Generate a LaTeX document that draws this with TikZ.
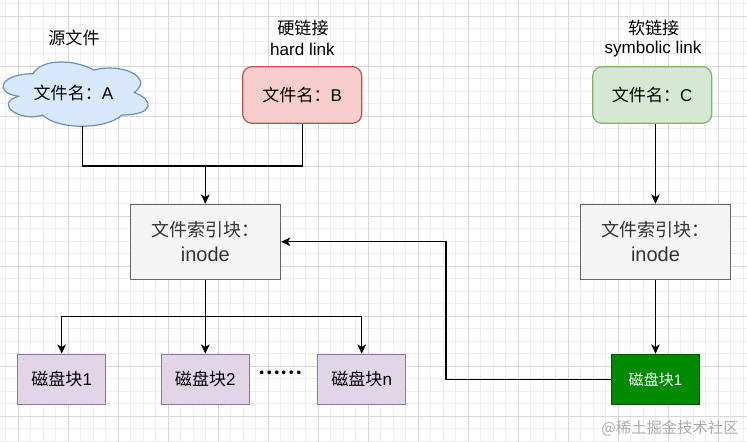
\documentclass[tikz,border=0pt]{standalone}
\usepackage{fontspec}
\setmainfont{Liberation Sans}
\newfontfamily\cjk{Noto Sans CJK SC}[BoldFont={Noto Sans CJK SC Bold}]
\usetikzlibrary{arrows.meta}

\definecolor{gridlight}{HTML}{EEEEEE}
\definecolor{griddark}{HTML}{D8D8D8}
\definecolor{cloudfill}{HTML}{DAE8FC}
\definecolor{cloudline}{HTML}{6C8EBF}
\definecolor{hardfill}{HTML}{F8CECC}
\definecolor{hardline}{HTML}{B85450}
\definecolor{softfill}{HTML}{D5E8D4}
\definecolor{softline}{HTML}{82B366}
\definecolor{inodefill}{HTML}{F5F5F5}
\definecolor{inodeline}{HTML}{666666}
\definecolor{inodetext}{HTML}{333333}
\definecolor{diskfill}{HTML}{E1D5E7}
\definecolor{diskline}{HTML}{9673A6}
\definecolor{symfill}{HTML}{008A00}
\definecolor{symline}{HTML}{005700}

\tikzset{every picture/.style={line width=0.75pt},
	gridminor/.style={draw=gridlight,line width=0.7pt},
	gridmajor/.style={draw=griddark,line width=0.7pt},
	plaintext/.style={inner sep=0pt,font=\fontsize{12.8}{15}\selectfont},
	linkbox/.style={plaintext,rounded corners=7pt,minimum width=89.25pt,minimum height=42.5pt,line width=0.9pt},
	hardbox/.style={linkbox,fill=hardfill,draw=hardline},
	softbox/.style={linkbox,fill=softfill,draw=softline},
	inodebox/.style={inner sep=0pt,minimum width=112.8pt,minimum height=56.25pt,fill=inodefill,draw=inodeline,
		line width=0.9pt,text=inodetext,align=center,font=\fontsize{13.5}{19}\selectfont},
	diskbox/.style={plaintext,minimum width=66pt,minimum height=37.5pt,fill=diskfill,draw=diskline,line width=0.9pt},
	greenbox/.style={inner sep=0pt,minimum width=66pt,minimum height=37.5pt,fill=symfill,draw=symline,
		line width=0.9pt,text=white,font=\fontsize{11.3}{14}\selectfont},
	watermark/.style={inner sep=0pt,text=black!32,font=\fontsize{11.5}{14}\selectfont},
	link/.style={draw=black,line width=0.9pt},
	arrow/.style={link,-{Stealth[length=7pt,width=6.5pt,inset=2pt]}}}

\begin{document}
\begin{tikzpicture}[x=0.75pt,y=0.75pt,yscale=-1,xscale=1]
	\useasboundingbox (0,0) rectangle (747,442);
	\fill[white] (0,0) rectangle (747,442);

	% Grid
	\foreach \gx in {0,...,59} {\draw[gridminor] (5.8+12.5*\gx,0) -- (5.8+12.5*\gx,442);}
	\foreach \gy in {0,...,35} {\draw[gridminor] (0,3.5+12.5*\gy) -- (747,3.5+12.5*\gy);}
	\foreach \gx in {0,...,14} {\draw[gridmajor] (18.3+50*\gx,0) -- (18.3+50*\gx,442);}
	\foreach \gy in {0,...,8} {\draw[gridmajor] (0,16+50*\gy) -- (747,16+50*\gy);}

	%Shape: Cloud
	\draw [fill=cloudfill,draw=cloudline,line width=0.9pt] (33,73.75) .. controls (0.6,73.75) and (-7.5,92.5) .. (18.42,96.25) .. controls (-7.5,104.5) and (21.66,122.5) .. (42.72,115) .. controls (57.3,130) and (105.9,130) .. (122.1,115) .. controls (154.5,115) and (154.5,100) .. (134.25,92.5) .. controls (154.5,77.5) and (122.1,62.5) .. (93.75,70) .. controls (73.5,58.75) and (41.1,58.75) .. (33,73.75) -- cycle ;
	\node[plaintext] (fileA) at (73.5,92.5) {{\cjk 文件名：}A};
	\coordinate (fileAb) at (82.7,126);

	%Shape: Rounded Rect
	\node[hardbox] (fileB) at (302.2,95) {{\cjk 文件名：}B};
	\node[softbox] (fileC) at (652.2,95) {{\cjk 文件名：}C};

	% Text Node
	\node[plaintext] (srcLabel) at (74,38.3) {\cjk 源文件};
	\node[plaintext] (hardLabel) at (303,28.3) {\cjk 硬链接};
	\node[plaintext] (hardEn) at (302.5,49) {hard link};
	\node[plaintext] (softLabel) at (653.7,28.3) {\cjk 软链接};
	\node[plaintext] (softEn) at (653,49) {symbolic link};

	%Shape: Rectangle
	\node[inodebox] (inodeL) at (205.3,241.8) {{\cjk 文件索引块：}\\{\fontsize{15}{18}\selectfont inode}};
	\node[inodebox] (inodeR) at (655.5,241.8) {{\cjk 文件索引块：}\\{\fontsize{15}{18}\selectfont inode}};

	\node[diskbox] (disk1) at (61.7,379.3) {{\cjk 磁盘块}1};
	\node[diskbox] (disk2) at (205.3,379.3) {{\cjk 磁盘块}2};
	\node[diskbox] (diskn) at (361.7,379.3) {{\cjk 磁盘块}n};
	\node[plaintext,font=\fontsize{15}{18}\selectfont] (dots) at (280.5,373) {\cjk\bfseries ……};
	\node[greenbox] (diskS) at (655.5,379.3) {{\cjk 磁盘块}1};

	% Connectors
	\coordinate (joinAB) at (205.3,166);
	\draw[link] (fileAb) |- (joinAB);
	\draw[link] (fileB.south) |- (joinAB);
	\draw[arrow] (joinAB) -- (inodeL.north);

	\coordinate (splitL) at (205.3,316.7);
	\draw[link] (inodeL.south) -- (splitL);
	\draw[arrow] (splitL) -| (disk1.north);
	\draw[arrow] (splitL) -- (disk2.north);
	\draw[arrow] (splitL) -| (diskn.north);

	\draw[arrow] (fileC.south -| inodeR.north) -- (inodeR.north);
	\draw[arrow] (inodeR.south) -- (diskS.north);
	\coordinate (backTurn) at (446,379.3);
	\draw[arrow] (diskS.west) -- (backTurn) |- (inodeL.east);

	% Text Node
	\node[watermark] (mark) at (670,428.3) {\cjk @稀土掘金技术社区};

\end{tikzpicture}
\end{document}
